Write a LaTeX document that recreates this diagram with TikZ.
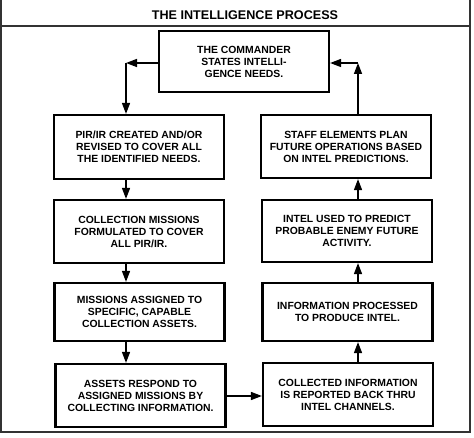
\documentclass[tikz,border=0pt]{standalone}
\usepackage{fontspec}
\setmainfont{Liberation Sans}
\usetikzlibrary{arrows.meta}
\begin{document}
\begin{tikzpicture}[x=1pt,y=-1pt,
  box/.style={draw,line width=2.2pt,minimum width=170pt,align=center,
    font=\bfseries\fontsize{10.4}{12}\selectfont,inner sep=2pt},
  conn/.style={line width=1.5pt},
  arr/.style={conn,-{Triangle[length=11pt,width=8pt]}},
  frame/.style={line width=1.6pt,draw=black!80}]
\useasboundingbox (0,0) rectangle (474,438);
% frame
\draw[frame] (1,0) -- (1,432) -- (470,432) -- (470,0);
\draw[frame] (1,26) -- (470,26);
\node (title) at (245,15) {\bfseries\fontsize{12.6}{14}\selectfont THE INTELLIGENCE PROCESS};
% boxes
\node[box,minimum height=61pt] (cmd) at (244,61.5) {THE COMMANDER\\STATES INTELLI-\\GENCE NEEDS.};
\node[box,minimum height=64pt] (pir) at (139,147) {PIR/IR CREATED AND/OR\\REVISED TO COVER ALL\\THE IDENTIFIED NEEDS.};
\node[box,minimum height=63pt] (coll) at (139,231.5) {COLLECTION MISSIONS\\FORMULATED TO COVER\\ALL PIR/IR.};
\node[box,minimum height=58pt] (miss) at (139.5,312) {MISSIONS ASSIGNED TO\\SPECIFIC, CAPABLE\\COLLECTION ASSETS.};
\node[box,minimum height=63pt] (assets) at (140.5,395.5) {ASSETS RESPOND TO\\ASSIGNED MISSIONS BY\\COLLECTING INFORMATION.};
\node[box,minimum height=63pt] (staff) at (346,146.5) {STAFF ELEMENTS PLAN\\FUTURE OPERATIONS BASED\\ON INTEL PREDICTIONS.};
\node[box,minimum height=62pt] (intel) at (347,231) {INTEL USED TO PREDICT\\PROBABLE ENEMY FUTURE\\ACTIVITY.};
\node[box,minimum height=58pt] (info) at (347.5,312) {INFORMATION PROCESSED\\TO PRODUCE INTEL.};
\node[box,minimum height=63pt] (colld) at (348,394.5) {COLLECTED INFORMATION\\IS REPORTED BACK THRU\\INTEL CHANNELS.};
% guide coordinates
\coordinate (xL) at (126,0);
\coordinate (xR) at (358,0);
\coordinate (cL) at (126,63);
\coordinate (cR) at (358,63);
% connectors
\draw[arr] (cmd.west |- cL) -- (cL);
\draw[arr] (cL) -- (pir.north -| xL);
\draw[arr] (pir.south -| xL) -- (coll.north -| xL);
\draw[arr] (coll.south -| xL) -- (miss.north -| xL);
\draw[arr] (miss.south -| xL) -- (assets.north -| xL);
\draw[arr] (assets.east |- 0,396) -- (colld.west |- 0,396);
\draw[arr] (colld.north -| xR) -- (info.south -| xR);
\draw[arr] (info.north -| xR) -- (intel.south -| xR);
\draw[arr] (intel.north -| xR) -- (staff.south -| xR);
\draw[arr] (staff.north -| xR) -- (cR);
\draw[arr] (cR) -- (cmd.east |- cR);
\end{tikzpicture}
\end{document}
